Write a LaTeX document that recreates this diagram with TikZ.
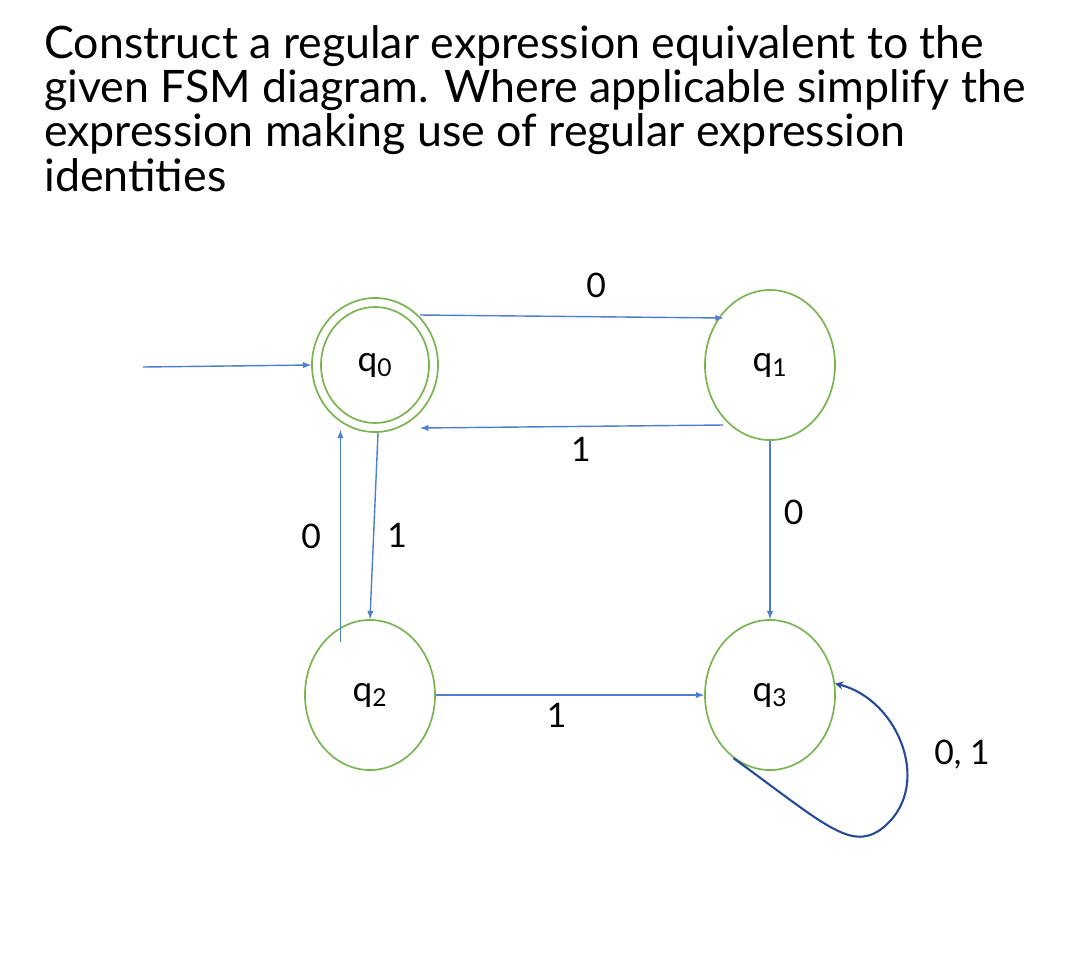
\documentclass[tikz,border=0pt]{standalone}
\usepackage{fontspec}
\setmainfont{Lato}
\usetikzlibrary{shapes.geometric, arrows}
\definecolor{stgreen}{RGB}{122,180,82}
\definecolor{edgeblue}{RGB}{80,125,205}
\definecolor{loopblue}{RGB}{40,75,150}
\tikzset{
  state/.style={
    ellipse,
    draw=stgreen,
    line width=1.2pt,
    minimum width=3.25cm,
    minimum height=3.75cm,
    font=\fontsize{25}{25}\selectfont
  },
  lbl/.style={font=\fontsize{24}{24}\selectfont}
}
\tikzstyle{arrow} = [-latex, draw=edgeblue, line width=1pt]
\def\st#1#2{q\textsubscript{#2}}
\begin{document}
\begin{tikzpicture}[x=0.025cm, y=-0.025cm]
    \useasboundingbox (0,0) rectangle (1080,963);
    \node[anchor=north west, inner sep=0pt, align=left, font=\fontsize{31.8}{31.5}\selectfont] (title) at (44,25) {Construct a regular expression equivalent to the\\given FSM diagram. Where applicable simplify the\\expression making use of regular expression\\identities};
    \node[state, minimum width=3.15cm, minimum height=3.35cm] (q0) at (375,365) {};
    \node[ellipse, draw=stgreen, line width=1.2pt, minimum width=2.7cm, minimum height=2.9cm, font=\fontsize{25}{25}\selectfont] (q0in) at (375,365) {\st{q}{0}};
    \node[state] (q1) at (770,365) {\st{q}{1}};
    \node[state] (q2) at (370,695) {\st{q}{2}};
    \node[state] (q3) at (770,695) {\st{q}{3}};
    \coordinate (start) at (143,367);
    \draw[arrow] (start) to (q0.west);
    \draw[arrow] (q0.north east |- 0,315) to node [lbl, above=10pt, pos=0.58] {0} (q1.north west |- 0,318);
    \draw[arrow] (q1.south west |- 0,425) to node [lbl, below=4pt, pos=0.47] {1} (q0.south east |- 0,428);
    \draw[arrow] (q0.south) ++(3,0) to node [lbl, right=6pt, pos=0.55] {1} (q2.north);
    \draw[arrow] (q2.north west |- 0,642) ++(17,0) to node [lbl, left=10pt, pos=0.5] {0} ++(0,-212);
    \draw[arrow] (q1.south) to node [lbl, right=6pt, pos=0.4] {0} (q3.north);
    \draw[arrow] (q2.east) to node [lbl, below=2pt, pos=0.45] {1} (q3.west);
    \draw[-stealth, draw=loopblue, line width=1.5pt] (q3.-120) .. controls (825,825) and (850,850) .. (880,830) .. controls (935,790) and (900,700) .. (q3.10);
    \node[lbl] (loop) at (962,755) {0, 1};
\end{tikzpicture}
\end{document}
